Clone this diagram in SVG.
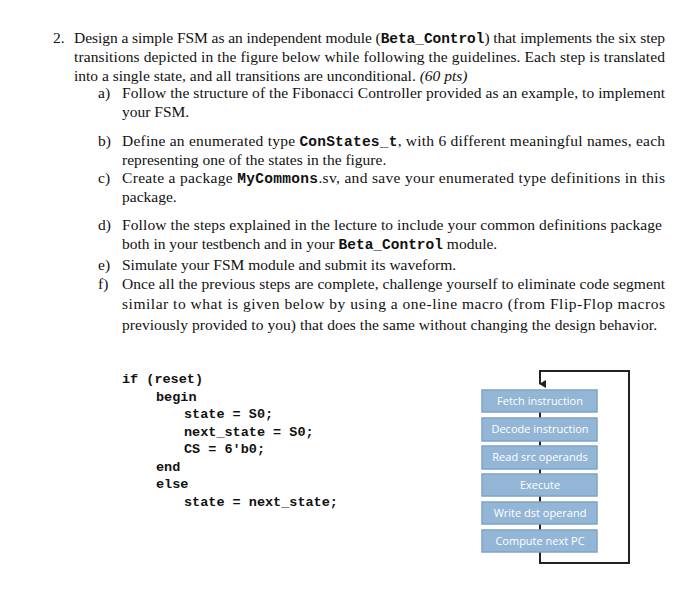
<svg xmlns="http://www.w3.org/2000/svg" width="700" height="610" viewBox="0 0 700 610">
<style>
.t{font-family:"Liberation Serif",serif;font-size:15.5px;fill:#111}
.m{font-family:"Liberation Mono",monospace;font-weight:bold;font-size:14.5px}
.c{font-family:"Liberation Mono",monospace;font-weight:bold;font-size:13.5px;fill:#111}
.box{fill:#94b6d6;stroke:#7fa3c6;stroke-width:1.5}
.bl{font-family:"Open Sans",sans-serif;font-size:11px;fill:#fff;text-anchor:middle}
.ln{fill:none;stroke:#222;stroke-width:2}
</style>
<defs><marker id="a" markerWidth="8" markerHeight="8" refX="4" refY="6" orient="auto" markerUnits="userSpaceOnUse"><path d="M0,0 L8,0 L4,7 Z" fill="#222"/></marker></defs>
<rect width="700" height="610" fill="#fff"/>
<text class="t" x="53" y="43">2.</text>
<text class="t" x="74" y="43" textLength="591" lengthAdjust="spacing">Design a simple FSM as an independent module (<tspan class="m">Beta_Control</tspan>) that implements the six step</text>
<text class="t" x="74" y="62" textLength="591" lengthAdjust="spacing">transitions depicted in the figure below while following the guidelines. Each step is translated</text>
<text class="t" x="74" y="81">into a single state, and all transitions are unconditional. <tspan font-style="italic">(60 pts)</tspan></text>
<text class="t" x="98" y="98">a)</text><text class="t" x="122" y="98" textLength="543" lengthAdjust="spacing">Follow the structure of the Fibonacci Controller provided as an example, to implement</text>
<text class="t" x="122" y="117">your FSM.</text>
<text class="t" x="98" y="146">b)</text><text class="t" x="122" y="146" textLength="543" lengthAdjust="spacing">Define an enumerated type <tspan class="m">ConStates_t</tspan>, with 6 different meaningful names, each</text>
<text class="t" x="122" y="165">representing one of the states in the figure.</text>
<text class="t" x="98" y="183">c)</text><text class="t" x="122" y="183" textLength="543" lengthAdjust="spacing">Create a package <tspan class="m">MyCommons</tspan>.sv, and save your enumerated type definitions in this</text>
<text class="t" x="122" y="202">package.</text>
<text class="t" x="98" y="230">d)</text><text class="t" x="122" y="230" textLength="540" lengthAdjust="spacing">Follow the steps explained in the lecture to include your common definitions package</text>
<text class="t" x="122" y="249">both in your testbench and in your <tspan class="m">Beta_Control</tspan> module.</text>
<text class="t" x="98" y="270">e)</text><text class="t" x="122" y="270">Simulate your FSM module and submit its waveform.</text>
<text class="t" x="98" y="289">f)</text><text class="t" x="122" y="289" textLength="543" lengthAdjust="spacing">Once all the previous steps are complete, challenge yourself to eliminate code segment</text>
<text class="t" x="122" y="309" textLength="543" lengthAdjust="spacing">similar to what is given below by using a one-line macro (from Flip-Flop macros</text>
<text class="t" x="122" y="330" textLength="535" lengthAdjust="spacing">previously provided to you) that does the same without changing the design behavior.</text>
<g id="code">
<text class="c" x="122" y="383">if (reset)</text>
<text class="c" x="156" y="401">begin</text>
<text class="c" x="184" y="418">state = S0;</text>
<text class="c" x="184" y="436">next_state = S0;</text>
<text class="c" x="184" y="453">CS = 6'b0;</text>
<text class="c" x="156" y="471">end</text>
<text class="c" x="156" y="488">else</text>
<text class="c" x="184" y="506">state = next_state;</text>
</g>
<g id="connectors">
<path class="ln" d="M540,552 V563 H629 V371 H540 V384" marker-end="url(#a)"/>
<path class="ln" stroke-width="1" d="M540,412V418M540,441V446M540,469V474M540,496V502M540,524V530"/>
</g>
<g id="n1"><rect class="box" x="482" y="390" width="115" height="22"/><text class="bl" x="540" y="405">Fetch instruction</text></g>
<g id="n2"><rect class="box" x="482" y="418" width="115" height="23"/><text class="bl" x="540" y="433">Decode instruction</text></g>
<g id="n3"><rect class="box" x="482" y="446" width="115" height="23"/><text class="bl" x="540" y="461">Read src operands</text></g>
<g id="n4"><rect class="box" x="482" y="474" width="115" height="22"/><text class="bl" x="540" y="489">Execute</text></g>
<g id="n5"><rect class="box" x="482" y="502" width="115" height="22"/><text class="bl" x="540" y="517">Write dst operand</text></g>
<g id="n6"><rect class="box" x="482" y="530" width="115" height="22"/><text class="bl" x="540" y="545">Compute next PC</text></g>
</svg>
